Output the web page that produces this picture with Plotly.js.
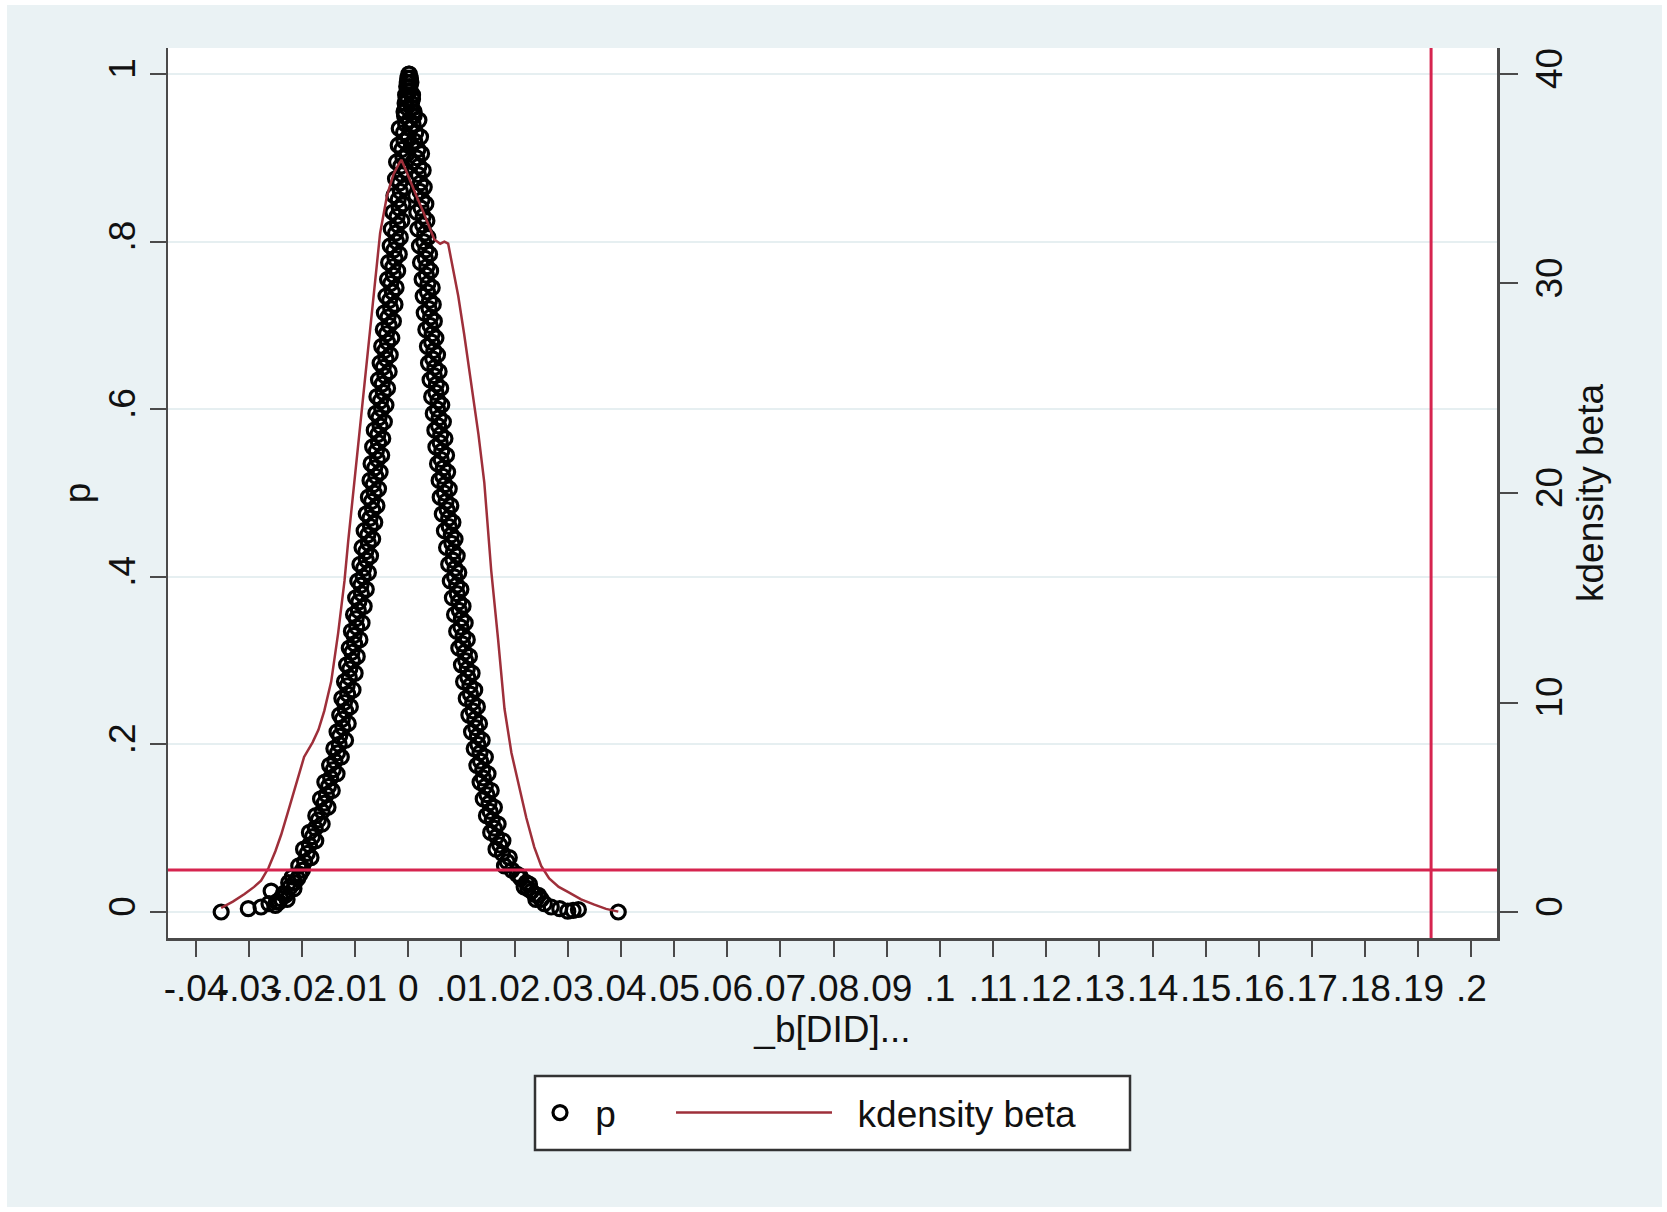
<!DOCTYPE html>
<html>
<head>
<meta charset="utf-8">
<script src="https://cdn.plot.ly/plotly-3.0.1.min.js"></script>
<style>html,body{margin:0;padding:0;background:#ffffff;}</style>
</head>
<body>
<div id="chart" style="width:1667px;height:1212px;"></div>
<script>
// ---- Data ----
// Placebo coefficients (_b[DID]) and their p-values, left branch of the cloud
const leftBeta = [
  0.0001,-0.0001,-0.0002,-0.0003,0.0000,-0.0005,-0.0004,-0.0006,-0.0003,-0.0008,
  -0.0007,-0.0005,-0.0009,-0.0008,-0.0012,-0.0010,-0.0014,-0.0012,-0.0016,-0.0015,
  -0.0019,-0.0017,-0.0021,-0.0020,-0.0024,-0.0022,-0.0027,-0.0025,-0.0029,-0.0028,
  -0.0033,-0.0030,-0.0035,-0.0033,-0.0038,-0.0036,-0.0041,-0.0039,-0.0044,-0.0042,
  -0.0047,-0.0044,-0.0049,-0.0047,-0.0052,-0.0050,-0.0055,-0.0053,-0.0057,-0.0056,
  -0.0060,-0.0058,-0.0063,-0.0061,-0.0066,-0.0064,-0.0069,-0.0067,-0.0072,-0.0071,
  -0.0076,-0.0075,-0.0080,-0.0079,-0.0084,-0.0085,-0.0089,-0.0088,-0.0093,-0.0094,
  -0.0098,-0.0097,-0.0102,-0.0101,-0.0106,-0.0105,-0.0110,-0.0111,-0.0115,-0.0114,
  -0.0120,-0.0118,-0.0124,-0.0123,-0.0129,-0.0130,-0.0133,-0.0138,-0.0141,-0.0146,
  -0.0150,-0.0154,-0.0158,-0.0162,-0.0169,-0.0175,-0.0180,-0.0186,-0.0190,-0.0195,
  -0.0199,-0.0204,-0.0208,-0.0214,-0.0222,-0.0258,-0.0231,-0.0240,-0.0243,-0.0250,
  -0.0262,-0.0277,-0.0301,-0.0352
];
const leftP = [
  1.000,0.995,0.990,0.985,0.980,0.975,0.970,0.965,0.960,0.955,
  0.950,0.940,0.930,0.920,0.910,0.900,0.890,0.880,0.870,0.860,
  0.850,0.840,0.830,0.820,0.810,0.800,0.790,0.780,0.770,0.760,
  0.750,0.740,0.730,0.720,0.710,0.700,0.690,0.680,0.670,0.660,
  0.650,0.640,0.630,0.620,0.610,0.600,0.590,0.580,0.570,0.560,
  0.550,0.540,0.530,0.520,0.510,0.500,0.490,0.480,0.470,0.460,
  0.450,0.440,0.430,0.420,0.410,0.400,0.390,0.380,0.370,0.360,
  0.350,0.340,0.330,0.320,0.310,0.300,0.290,0.280,0.270,0.260,
  0.250,0.240,0.230,0.220,0.210,0.200,0.190,0.180,0.170,0.160,
  0.150,0.140,0.130,0.120,0.110,0.100,0.090,0.080,0.070,0.060,
  0.050,0.045,0.040,0.035,0.030,0.025,0.020,0.016,0.012,0.008,
  0.010,0.006,0.004,0.000
];
// more replications on the left branch (interleaved with the ones above)
const leftBeta2 = [
  0.0002,-0.0017,0.0000,-0.0019,-0.0002,-0.0022,-0.0005,-0.0024,-0.0007,-0.0027,
  -0.0010,-0.0029,-0.0012,-0.0032,-0.0015,-0.0034,-0.0017,-0.0037,-0.0020,-0.0039,
  -0.0023,-0.0042,-0.0025,-0.0045,-0.0028,-0.0047,-0.0031,-0.0050,-0.0034,-0.0053,
  -0.0036,-0.0056,-0.0039,-0.0059,-0.0042,-0.0061,-0.0045,-0.0064,-0.0048,-0.0067,
  -0.0050,-0.0070,-0.0053,-0.0072,-0.0056,-0.0075,-0.0059,-0.0079,-0.0063,-0.0083,
  -0.0067,-0.0087,-0.0071,-0.0091,-0.0075,-0.0095,-0.0079,-0.0099,-0.0083,-0.0103,
  -0.0087,-0.0107,-0.0091,-0.0111,-0.0096,-0.0116,-0.0100,-0.0120,-0.0104,-0.0125,
  -0.0109,-0.0129,-0.0113,-0.0134,-0.0118,-0.0140,-0.0126,-0.0148,-0.0134,-0.0157,
  -0.0143,-0.0165,-0.0151,-0.0174,-0.0162,-0.0186,-0.0174,-0.0197,-0.0183,-0.0206,
  -0.0225,-0.0215,-0.0235,-0.0228,-0.0248,-0.0218
];
const leftP2 = [
  0.945,0.935,0.925,0.915,0.905,0.895,0.885,0.875,0.865,0.855,
  0.845,0.835,0.825,0.815,0.805,0.795,0.785,0.775,0.765,0.755,
  0.745,0.735,0.725,0.715,0.705,0.695,0.685,0.675,0.665,0.655,
  0.645,0.635,0.625,0.615,0.605,0.595,0.585,0.575,0.565,0.555,
  0.545,0.535,0.525,0.515,0.505,0.495,0.485,0.475,0.465,0.455,
  0.445,0.435,0.425,0.415,0.405,0.395,0.385,0.375,0.365,0.355,
  0.345,0.335,0.325,0.315,0.305,0.295,0.285,0.275,0.265,0.255,
  0.245,0.235,0.225,0.215,0.205,0.195,0.185,0.175,0.165,0.155,
  0.145,0.135,0.125,0.115,0.105,0.095,0.085,0.075,0.065,0.055,
  0.035,0.028,0.022,0.015,0.012,0.042
];
// right branch of the cloud
const rightBeta = [
  0.0002,0.0004,0.0005,0.0003,0.0003,0.0008,0.0008,0.0006,0.0006,0.0011,
  0.0011,0.0009,0.0014,0.0012,0.0018,0.0016,0.0020,0.0019,0.0023,0.0022,
  0.0026,0.0024,0.0028,0.0027,0.0031,0.0029,0.0033,0.0032,0.0035,0.0034,
  0.0037,0.0036,0.0040,0.0039,0.0042,0.0041,0.0045,0.0044,0.0048,0.0046,
  0.0050,0.0049,0.0053,0.0052,0.0056,0.0055,0.0058,0.0057,0.0061,0.0060,
  0.0063,0.0062,0.0066,0.0065,0.0069,0.0068,0.0071,0.0073,0.0076,0.0077,
  0.0081,0.0082,0.0085,0.0084,0.0088,0.0087,0.0091,0.0092,0.0095,0.0096,
  0.0100,0.0099,0.0103,0.0102,0.0106,0.0108,0.0111,0.0112,0.0116,0.0117,
  0.0121,0.0122,0.0125,0.0127,0.0130,0.0131,0.0135,0.0136,0.0140,0.0141,
  0.0145,0.0148,0.0152,0.0154,0.0158,0.0162,0.0166,0.0172,0.0177,0.0186,
  0.0195,0.0205,0.0212,0.0222,0.0218,0.0232,0.0245,0.0240,0.0256,0.0269,
  0.0285,0.0300,0.0310,0.0320,0.0395
];
const rightP = [
  1.000,0.995,0.990,0.985,0.980,0.975,0.970,0.965,0.960,0.955,
  0.950,0.940,0.930,0.920,0.910,0.900,0.890,0.880,0.870,0.860,
  0.850,0.840,0.830,0.820,0.810,0.800,0.790,0.780,0.770,0.760,
  0.750,0.740,0.730,0.720,0.710,0.700,0.690,0.680,0.670,0.660,
  0.650,0.640,0.630,0.620,0.610,0.600,0.590,0.580,0.570,0.560,
  0.550,0.540,0.530,0.520,0.510,0.500,0.490,0.480,0.470,0.460,
  0.450,0.440,0.430,0.420,0.410,0.400,0.390,0.380,0.370,0.360,
  0.350,0.340,0.330,0.320,0.310,0.300,0.290,0.280,0.270,0.260,
  0.250,0.240,0.230,0.220,0.210,0.200,0.190,0.180,0.170,0.160,
  0.150,0.140,0.130,0.120,0.110,0.100,0.090,0.080,0.070,0.060,
  0.050,0.045,0.040,0.035,0.030,0.025,0.020,0.015,0.010,0.006,
  0.004,0.001,0.002,0.003,0.000
];
// more replications on the right branch
const rightBeta2 = [
  0.0020,0.0004,0.0023,0.0006,0.0025,0.0009,0.0028,0.0011,0.0030,0.0014,
  0.0033,0.0016,0.0035,0.0018,0.0037,0.0021,0.0040,0.0023,0.0042,0.0026,
  0.0045,0.0028,0.0047,0.0030,0.0049,0.0033,0.0052,0.0036,0.0055,0.0038,
  0.0058,0.0041,0.0061,0.0044,0.0063,0.0047,0.0066,0.0050,0.0069,0.0052,
  0.0072,0.0055,0.0074,0.0058,0.0077,0.0060,0.0080,0.0064,0.0084,0.0068,
  0.0088,0.0072,0.0092,0.0076,0.0095,0.0079,0.0099,0.0083,0.0103,0.0087,
  0.0107,0.0091,0.0111,0.0095,0.0115,0.0100,0.0120,0.0104,0.0125,0.0109,
  0.0130,0.0114,0.0134,0.0119,0.0139,0.0124,0.0145,0.0129,0.0150,0.0135,
  0.0156,0.0141,0.0162,0.0147,0.0169,0.0155,0.0178,0.0165,0.0190,0.0181,
  0.0210,0.0225,0.0238,0.0228,0.0250
];
const rightP2 = [
  0.945,0.935,0.925,0.915,0.905,0.895,0.885,0.875,0.865,0.855,
  0.845,0.835,0.825,0.815,0.805,0.795,0.785,0.775,0.765,0.755,
  0.745,0.735,0.725,0.715,0.705,0.695,0.685,0.675,0.665,0.655,
  0.645,0.635,0.625,0.615,0.605,0.595,0.585,0.575,0.565,0.555,
  0.545,0.535,0.525,0.515,0.505,0.495,0.485,0.475,0.465,0.455,
  0.445,0.435,0.425,0.415,0.405,0.395,0.385,0.375,0.365,0.355,
  0.345,0.335,0.325,0.315,0.305,0.295,0.285,0.275,0.265,0.255,
  0.245,0.235,0.225,0.215,0.205,0.195,0.185,0.175,0.165,0.155,
  0.145,0.135,0.125,0.115,0.105,0.095,0.085,0.075,0.065,0.055,
  0.043,0.028,0.021,0.033,0.015
];
// kernel density of beta (right axis)
const densBeta = [
  -0.0352,-0.0330,-0.0308,-0.0290,-0.0277,-0.0263,-0.0250,-0.0239,-0.0226,-0.0214,
  -0.0196,-0.0180,-0.0169,-0.0158,-0.0145,-0.0132,-0.0120,-0.0113,-0.0102,-0.0092,
  -0.0079,-0.0066,-0.0053,-0.0040,-0.0028,-0.0018,-0.0013,-0.0006,0.0000,0.0015,
  0.0030,0.0049,0.0060,0.0068,0.0075,0.0085,0.0094,0.0105,0.0119,0.0132,
  0.0143,0.0156,0.0169,0.0181,0.0194,0.0207,0.0222,0.0237,0.0250,0.0265,
  0.0283,0.0301,0.0325,0.0350,0.0372,0.0395
];
const densValue = [
  0.2,0.5,0.86,1.2,1.5,2.1,2.9,3.7,4.8,5.8,
  7.4,8.1,8.7,9.6,11.0,13.3,15.8,17.7,20.4,23.0,
  26.3,29.5,32.4,34.2,35.2,35.7,35.9,35.5,35.1,34.2,
  33.3,32.1,31.9,32.0,31.9,30.6,29.4,27.6,25.2,22.8,
  20.5,16.3,13.0,9.7,7.6,6.1,4.5,3.1,2.2,1.6,
  1.2,0.95,0.6,0.35,0.15,0.02
];
// reference lines
const pThreshold = 0.05;
const trueBeta = 0.1924;
// ticks
const xTickVals = [-0.04,-0.03,-0.02,-0.01,0,0.01,0.02,0.03,0.04,0.05,0.06,0.07,0.08,0.09,0.1,0.11,0.12,0.13,0.14,0.15,0.16,0.17,0.18,0.19,0.2];
const xTickText = ["-.04","-.03","-.02","-.01","0",".01",".02",".03",".04",".05",".06",".07",".08",".09",".1",".11",".12",".13",".14",".15",".16",".17",".18",".19",".2"];
const yTickVals = [0,0.2,0.4,0.6,0.8,1];
const yTickText = ["0",".2",".4",".6",".8","1"];
const y2TickVals = [0,10,20,30,40];
const y2TickText = ["0","10","20","30","40"];

// ---- Styling ----
const FONT = 'Liberation Sans, Arial, Helvetica, sans-serif';
const BG = '#EAF2F4';
const AXIS = '#4a4a4a';
const GRID = '#E6EFF1';
const RED = '#D6244F';
const MAROON = '#9E2F3A';
const FS = 37;
const NB = '\u00a0';

const traces = [
  {
    type: 'scatter', mode: 'markers', name: NB + 'p',
    x: leftBeta.concat(leftBeta2, rightBeta, rightBeta2),
    y: leftP.concat(leftP2, rightP, rightP2),
    marker: {symbol: 'circle-open', size: 14, color: '#000000', line: {width: 3.2, color: '#000000'}},
    legend: 'legend', hoverinfo: 'x+y'
  },
  {
    type: 'scatter', mode: 'lines', name: NB + NB + 'kdensity beta',
    x: densBeta, y: densValue, yaxis: 'y2',
    line: {color: MAROON, width: 2.5},
    legend: 'legend2'
  }
];

const plotL = 168, plotR = 1497, plotT = 48, plotB = 938;
const pw = plotR - plotL, ph = plotB - plotT;
const px = v => (v - plotL) / pw;
const py = v => (plotB - v) / ph;

const layout = {
  width: 1667, height: 1212,
  margin: {l: plotL, r: 1667 - plotR, t: plotT, b: 1212 - plotB, pad: 0},
  paper_bgcolor: '#ffffff', plot_bgcolor: '#ffffff',
  font: {family: FONT, size: FS, color: '#111111'},
  showlegend: true,
  xaxis: {
    range: [-0.0452, 0.2048], tickmode: 'array', tickvals: xTickVals, ticktext: xTickText,
    tickangle: 0, ticks: 'outside', ticklen: 16, tickwidth: 2, tickcolor: AXIS,
    showline: true, linecolor: AXIS, linewidth: 2.5, showgrid: false, zeroline: false,
    tickfont: {family: FONT, size: FS, color: '#111111'},
    title: {text: '_b[DID]...', font: {family: FONT, size: FS, color: '#111111'}, standoff: 6},
    automargin: false, fixedrange: true
  },
  yaxis: {
    range: [-0.031, 1.031], tickmode: 'array', tickvals: yTickVals, ticktext: yTickText,
    tickangle: -90, ticks: 'outside', ticklen: 16, tickwidth: 2, tickcolor: AXIS,
    showline: true, linecolor: AXIS, linewidth: 2.5, showgrid: true, gridcolor: GRID, gridwidth: 2,
    zeroline: false,
    tickfont: {family: FONT, size: FS, color: '#111111'},
    title: {text: 'p', font: {family: FONT, size: FS, color: '#111111'}, standoff: 0},
    automargin: false, fixedrange: true
  },
  yaxis2: {
    overlaying: 'y', side: 'right',
    range: [-1.24, 41.24], tickmode: 'array', tickvals: y2TickVals, ticktext: y2TickText,
    tickangle: -90, ticks: 'outside', ticklen: 18, tickwidth: 2, tickcolor: AXIS,
    showline: true, linecolor: AXIS, linewidth: 2.5, showgrid: false, zeroline: false,
    tickfont: {family: FONT, size: FS, color: '#111111'},
    title: {text: 'kdensity beta', font: {family: FONT, size: FS, color: '#111111'}, standoff: 4},
    automargin: false, fixedrange: true
  },
  legend: {
    orientation: 'h', x: px(535), xanchor: 'left', y: py(1113), yanchor: 'middle',
    bgcolor: 'rgba(0,0,0,0)', borderwidth: 0, itemwidth: 40,
    font: {family: FONT, size: FS, color: '#111111'}
  },
  legend2: {
    orientation: 'h', x: px(671), xanchor: 'left', y: py(1113), yanchor: 'middle',
    bgcolor: 'rgba(0,0,0,0)', borderwidth: 0, itemwidth: 156,
    font: {family: FONT, size: FS, color: '#111111'}
  },
  shapes: [
    // graph region background
    {type: 'rect', xref: 'paper', yref: 'paper', x0: px(7), x1: px(1662), y0: py(1207), y1: py(5),
     fillcolor: BG, line: {width: 0}, layer: 'below'},
    // plot region
    {type: 'rect', xref: 'paper', yref: 'paper', x0: 0, x1: 1, y0: 0, y1: 1,
     fillcolor: '#ffffff', line: {width: 0}, layer: 'below'},
    // legend box
    {type: 'rect', xref: 'paper', yref: 'paper', x0: px(535), x1: px(1130), y0: py(1150), y1: py(1076),
     fillcolor: '#ffffff', line: {width: 2.5, color: '#333333'}, layer: 'below'},
    // p = 0.05 line
    {type: 'line', xref: 'paper', yref: 'y', x0: 0, x1: 1, y0: pThreshold, y1: pThreshold,
     line: {color: RED, width: 3}, layer: 'above'},
    // true coefficient line
    {type: 'line', xref: 'x', yref: 'paper', x0: trueBeta, x1: trueBeta, y0: 0, y1: 1,
     line: {color: RED, width: 3}, layer: 'above'}
  ]
};

Plotly.newPlot('chart', traces, layout, {displayModeBar: false, staticPlot: true});
</script>
</body>
</html>
